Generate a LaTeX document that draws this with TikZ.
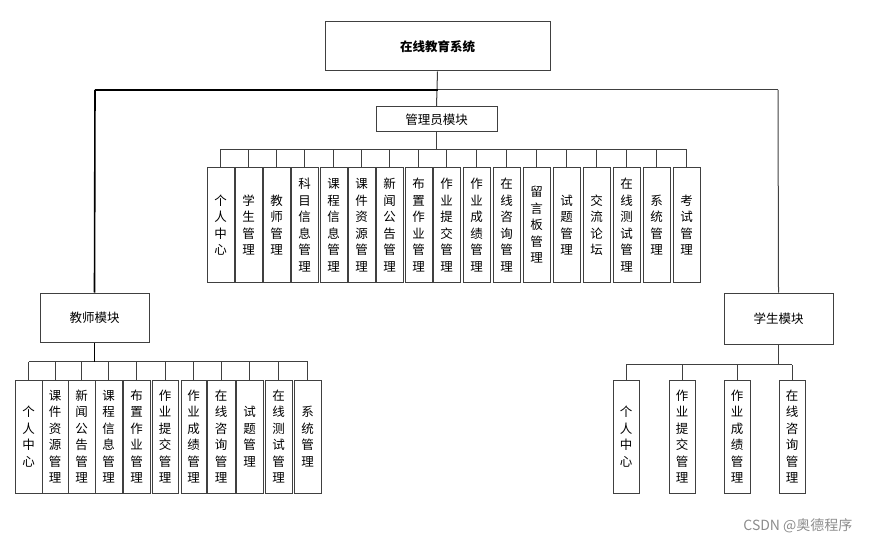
\documentclass[tikz,border=0pt]{standalone}
\usepackage{fontspec}
\setmainfont{Noto Sans CJK SC}
\begin{document}
\begin{tikzpicture}[x=1pt,y=-1pt,
  bx/.style={draw=black!75,line width=1pt,fill=white,inner sep=0pt,font=\fontsize{12.5}{16.5}\selectfont,align=center},
  ln/.style={draw=black!75,line width=1pt}]
\useasboundingbox (0,0) rectangle (869,545);
% top
\node[bx,minimum width=225,minimum height=49,font=\bfseries\fontsize{12.5}{14}\selectfont] (top) at (437.5,46.5) {在线教育系统};
\node[bx,minimum width=121,minimum height=25] (adm) at (436.5,119.5) {管理员模块};
\node[bx,minimum width=109,minimum height=49] (tea) at (94.5,317.5) {教师模块};
\node[bx,minimum width=109,minimum height=51] (stu) at (778.5,318.5) {学生模块};
\coordinate (L) at (95,90); \coordinate (R) at (778,90);
\draw[ln] (top.south) -- (adm.north);
\draw[ln,draw=black,line width=1.6pt] (L) -- (top.south |- L);
\draw[ln] (top.south |- L) -- (R);
\draw[ln,draw=black,line width=1.6pt] (L) -- (tea.north);
\draw[ln] (R) -- (stu.north);
% admin children
\foreach \x/\t [count=\i] in {207/个\\人\\中\\心, 235/学\\生\\管\\理, 263/教\\师\\管\\理, 291/科\\目\\信\\息\\管\\理, 320/课\\程\\信\\息\\管\\理, 348/课\\件\\资\\源\\管\\理, 376/新\\闻\\公\\告\\管\\理, 405/布\\置\\作\\业\\管\\理, 433/作\\业\\提\\交\\管\\理, 463/作\\业\\成\\绩\\管\\理, 493/在\\线\\咨\\询\\管\\理, 523/留\\言\\板\\管\\理, 553/试\\题\\管\\理, 583/交\\流\\论\\坛, 613/在\\线\\测\\试\\管\\理, 643/系\\统\\管\\理, 673/考\\试\\管\\理}{
  \node[bx,minimum width=27,minimum height=114] (a\i) at (\x+13.5,225) {\t};
  \draw[ln] (a\i.north) -- ++(0,-18) coordinate (ab\i);
}
\draw[ln] (ab1) -- (ab17);
\draw[ln] (adm.south) -- (436.5,150);
% teacher children
\foreach \x/\w/\t [count=\i] in {15/27/个\\人\\中\\心, 42/26/课\\件\\资\\源\\管\\理, 68/27/新\\闻\\公\\告\\管\\理, 95/27/课\\程\\信\\息\\管\\理, 123/27/布\\置\\作\\业\\管\\理, 152/26/作\\业\\提\\交\\管\\理, 181/25/作\\业\\成\\绩\\管\\理, 207/28/在\\线\\咨\\询\\管\\理, 236/27/试\\题\\管\\理, 265/27/在\\线\\测\\试\\管\\理, 294/27/系\\统\\管\\理}{
  \node[bx,minimum width=\w,minimum height=113] (t\i) at (\x+\w/2,436.5) {\t};
  \draw[ln] (t\i.north) -- ++(0,-18) coordinate (tb\i);
}
\draw[ln] (tb1) -- (tb11);
\draw[ln,draw=black,line width=1.6pt] (tea.south) -- (94.5,362);
% student children
\foreach \x/\t [count=\i] in {613/个\\人\\中\\心, 669/作\\业\\提\\交\\管\\理, 724/作\\业\\成\\绩\\管\\理, 779/在\\线\\咨\\询\\管\\理}{
  \node[bx,minimum width=26,minimum height=113] (s\i) at (\x+13,436.5) {\t};
  \draw[ln] (s\i.north) -- ++(0,-15) coordinate (sb\i);
}
\draw[ln] (sb1) -- (sb4);
\draw[ln] (stu.south) -- (778.5,365);
\node[text=black!45,font=\fontsize{14}{16}\selectfont,anchor=east] (wm) at (856,526) {CSDN @奥德程序};
\end{tikzpicture}
\end{document}
